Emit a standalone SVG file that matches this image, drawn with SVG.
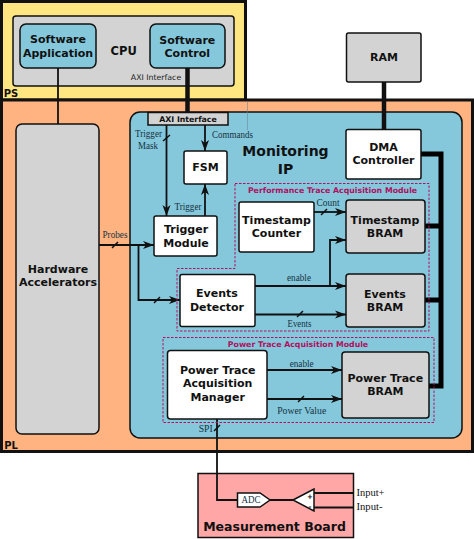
<svg xmlns="http://www.w3.org/2000/svg" width="474" height="539" viewBox="0 0 474 539">
<style>
.b{stroke:#111;stroke-width:1.5}
.white{fill:#fff}.grey{fill:#d3d3d3}.teal{fill:#85c8dc}
.t{font-family:"DejaVu Sans",sans-serif;font-weight:700;font-size:11px;fill:#111;text-anchor:middle}
.s{font-family:"Liberation Serif",serif;font-size:10.5px;fill:#15323f;text-anchor:middle}
.m{font-family:"DejaVu Sans",sans-serif;font-weight:700;font-size:7.8px;fill:#b0105f;text-anchor:middle}
.w{fill:none;stroke:#111;stroke-width:1.800}
.a{marker-end:url(#arrow)}
.k{fill:none;stroke:#000;stroke-width:5}
.d{fill:none;stroke:#b0105f;stroke-width:1;stroke-dasharray:2.5 1.5}
</style>
<defs>
<marker id="arrow" markerUnits="userSpaceOnUse" markerWidth="12" markerHeight="10" refX="11" refY="5" orient="auto">
<path d="M0 1 L11 5 L0 9 L3 5 Z" fill="#111"/>
</marker>
</defs>
<rect width="474" height="539" fill="#fff"/>
<g id="ps"><rect x="1.500" y="1.500" width="244" height="98.500" fill="#ffe680" stroke="#111" stroke-width="3"/><text class="t" x="11" y="97" style="font-size:10px">PS</text></g>
<g id="cpu"><rect class="grey b" x="13" y="16" width="221" height="70" rx="3"/><text class="t" x="123.700" y="55" style="font-size:11.500px">CPU</text><text x="156" y="80" style="font-family:'DejaVu Sans',sans-serif;font-size:7.800px;fill:#222;text-anchor:middle">AXI Interface</text></g>
<g id="pl"><rect x="1.500" y="100" width="471" height="351.500" fill="#ffb380" stroke="#111" stroke-width="3"/><text class="t" x="11" y="449" style="font-size:10px">PL</text></g>
<g id="monitoring-ip"><rect class="teal b" x="130" y="112" width="332" height="326" rx="10"/><text class="t" x="285.500" y="156" style="font-size:14px">Monitoring</text><text class="t" x="285.500" y="173.500" style="font-size:14px">IP</text></g>
<path d="M247.500 101V130" fill="none" stroke="#5f8090" stroke-width="0.500"/>
<g id="measurement-board"><rect x="198" y="473.500" width="155.500" height="64" fill="#ffa6a6" stroke="#111" stroke-width="1.500"/><text class="t" x="274.500" y="531" style="font-size:12.500px">Measurement Board</text></g>
<g id="connectors">
<path class="w" d="M58 68V124"/>
<path class="w" style="stroke-width:4.500" d="M187.500 68V112"/>
<path class="w" style="stroke-width:4.500" d="M384 82V129"/>
<path class="k" d="M421 154H441V386H429M425 226H441M425 300H441"/>
<path class="w a" d="M166.500 125V216"/>
<path class="w a" d="M205 125V151"/>
<path class="w a" d="M205 216V184"/>
<path class="w a" d="M99 245H154"/>
<path class="w a" d="M138.500 245V300H180"/>
<path class="w a" d="M314 212H346"/>
<path class="w a" d="M255 286H346"/>
<path class="w a" d="M330 286V240H346"/>
<path class="w a" d="M255 314.500H346"/>
<path class="w a" d="M267 370H342"/>
<path class="w a" d="M267 399H342"/>
<path class="w" d="M217 419V500H237M270 500H293M314 493H354M314 507.500H354"/>
<path class="w" style="stroke-width:1.500" d="M163 141L170 135M112 248L118 242M154 303L160 297M321 215L327 209M297 317L303 311M298 402L304 396M214 431L220 425"/>
</g>
<path id="perf-module" class="d" d="M235 183.500H429V331H177V268.500H235Z"/>
<text class="m" x="332.500" y="193.300">Performance Trace Acquisition Module</text>
<rect id="power-module" class="d" x="163" y="337.500" width="271" height="85"/>
<text class="m" x="298" y="346.700">Power Trace Acquisition Module</text>
<g id="software-application"><rect class="teal b" x="20" y="24" width="76" height="44" rx="6"/><text class="t" x="58" y="43">Software</text><text class="t" x="58" y="56.500">Application</text></g>
<g id="software-control"><rect class="teal b" x="150" y="24" width="75" height="44" rx="6"/><text class="t" x="187.300" y="43.500">Software</text><text class="t" x="187.300" y="57">Control</text></g>
<g id="axi-interface"><rect class="grey b" x="148" y="112.500" width="80" height="12.500"/><text class="t" x="188" y="121.700" style="font-size:7.800px">AXI Interface</text></g>
<g id="hardware-accelerators"><rect class="grey b" x="16" y="124" width="83" height="310" rx="6"/><text class="t" x="58" y="272.700">Hardware</text><text class="t" x="58" y="286">Accelerators</text></g>
<g id="fsm"><rect class="white b" x="184" y="151" width="43" height="33" rx="2"/><text class="t" x="205.500" y="171">FSM</text></g>
<g id="trigger-module"><rect class="white b" x="154" y="216" width="63" height="40" rx="2"/><text class="t" x="186" y="233.300">Trigger</text><text class="t" x="186" y="246.700">Module</text></g>
<g id="events-detector"><rect class="white b" x="180" y="274.500" width="75" height="52" rx="2"/><text class="t" x="217" y="297.300">Events</text><text class="t" x="217" y="310.700">Detector</text></g>
<g id="timestamp-counter"><rect class="white b" x="239" y="202" width="75" height="50" rx="2"/><text class="t" x="276.500" y="224">Timestamp</text><text class="t" x="276.500" y="237.300">Counter</text></g>
<g id="timestamp-bram"><rect class="grey b" x="346" y="200" width="79" height="53" rx="3"/><text class="t" x="385" y="223.700">Timestamp</text><text class="t" x="385" y="237.300">BRAM</text></g>
<g id="events-bram"><rect class="grey b" x="346" y="274" width="79" height="53" rx="3"/><text class="t" x="385" y="297.700">Events</text><text class="t" x="385" y="311">BRAM</text></g>
<g id="dma-controller"><rect class="white b" x="346" y="129.500" width="75" height="49.500" rx="2"/><text class="t" x="383.500" y="151">DMA</text><text class="t" x="383.500" y="164.300">Controller</text></g>
<g id="ram"><rect class="grey b" x="346.500" y="33" width="74.500" height="49" rx="2"/><text class="t" x="384" y="61">RAM</text></g>
<g id="power-manager"><rect class="white b" x="167.500" y="350.500" width="99.500" height="68.500" rx="3"/><text class="t" x="217.700" y="373.700">Power Trace</text><text class="t" x="217.700" y="387.300">Acquisition</text><text class="t" x="217.700" y="401">Manager</text></g>
<g id="power-bram"><rect class="grey b" x="342" y="352" width="87" height="66" rx="3"/><text class="t" x="385.300" y="382">Power Trace</text><text class="t" x="385.300" y="395.300">BRAM</text></g>
<g id="adc"><path class="white b" d="M237.500 493H260L270 500L260 507H237.500Z"/><text class="s" x="251" y="503" textLength="19" lengthAdjust="spacingAndGlyphs">ADC</text></g>
<g id="amplifier"><path class="white b" d="M293 500L314 489V511Z"/><text x="310" y="499" style="font-family:'DejaVu Sans',sans-serif;font-size:7px;font-weight:700;text-anchor:middle">+</text><text x="310" y="509" style="font-family:'DejaVu Sans',sans-serif;font-size:7px;font-weight:700;text-anchor:middle">-</text></g>
<g id="labels">
<text class="s" x="115" y="238" textLength="25" lengthAdjust="spacingAndGlyphs">Probes</text>
<text class="s" x="148.500" y="137" textLength="27" lengthAdjust="spacingAndGlyphs">Trigger</text>
<text class="s" x="148" y="148.700" textLength="20" lengthAdjust="spacingAndGlyphs">Mask</text>
<text class="s" x="232.500" y="138" textLength="41" lengthAdjust="spacingAndGlyphs">Commands</text>
<text class="s" x="188" y="209.500" textLength="27" lengthAdjust="spacingAndGlyphs">Trigger</text>
<text class="s" x="328" y="205.700" textLength="23" lengthAdjust="spacingAndGlyphs">Count</text>
<text class="s" x="299" y="280.700" textLength="24" lengthAdjust="spacingAndGlyphs">enable</text>
<text class="s" x="299.500" y="326.700" textLength="24" lengthAdjust="spacingAndGlyphs">Events</text>
<text class="s" x="301.700" y="367" textLength="24" lengthAdjust="spacingAndGlyphs">enable</text>
<text class="s" x="301.700" y="413.700" textLength="49" lengthAdjust="spacingAndGlyphs">Power  Value</text>
<text class="s" x="205.700" y="431.700" textLength="14" lengthAdjust="spacingAndGlyphs">SPI</text>
<text x="356.500" y="495.700" textLength="28" lengthAdjust="spacingAndGlyphs" style="font-family:'Liberation Serif',serif;font-size:11px;fill:#111">Input+</text>
<text x="356.500" y="510" textLength="26" lengthAdjust="spacingAndGlyphs" style="font-family:'Liberation Serif',serif;font-size:11px;fill:#111">Input-</text>
</g>
</svg>
